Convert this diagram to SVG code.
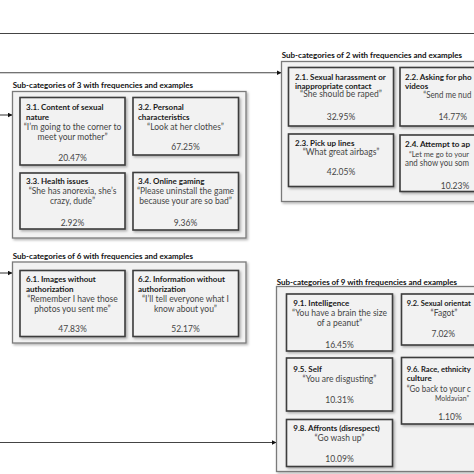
<svg xmlns="http://www.w3.org/2000/svg" width="474" height="474" viewBox="0 0 474 474">
<defs>
<filter id="sh" x="-10%" y="-10%" width="130%" height="130%">
<feDropShadow dx="1.5" dy="1.5" stdDeviation="0.8" flood-color="#000" flood-opacity="0.3"/>
</filter>
<marker id="ah" viewBox="0 0 10 10" refX="9" refY="5" markerWidth="5" markerHeight="5" orient="auto" markerUnits="userSpaceOnUse">
<path d="M0,0 L10,5 L0,10 z" fill="#111"/>
</marker>
<style>
.outer{fill:#f2f2f2;stroke:#7a7a7a;stroke-width:1.3;filter:url(#sh)}
.inner{fill:#f2f2f2;stroke:#3c3c3c;stroke-width:1.6;filter:url(#sh)}
.hdr{font-family:Lato,"Liberation Sans",sans-serif;font-weight:bold;font-size:8px;fill:#111}
.t{font-family:Lato,"Liberation Sans",sans-serif;font-weight:bold;font-size:8px;fill:#1a1a1a}
.q{font-family:Lato,"Liberation Sans",sans-serif;font-size:8.5px;fill:#454545;text-anchor:middle}
.qs{font-family:Lato,"Liberation Sans",sans-serif;font-size:8.5px;fill:#454545}
.sm{font-size:7.6px}
.line{stroke:#444;stroke-width:1.2;fill:none}
.conn{stroke:#444;stroke-width:1.1;fill:none;marker-end:url(#ah)}
</style>
</defs>
<rect width="474" height="474" fill="#fff"/>
<g id="connectors">
<line class="line" x1="0" y1="33.5" x2="474" y2="33.5"/>
<line class="conn" x1="0" y1="72.7" x2="281" y2="72.7"/>
<line class="conn" x1="0" y1="115" x2="12" y2="115"/>
<line class="conn" x1="0" y1="273" x2="12" y2="273"/>
<line class="conn" x1="0" y1="442.5" x2="276" y2="442.5"/>
</g>

<g id="group2">
<text class="hdr" x="281.7" y="58">Sub-categories of 2 with frequencies and examples</text>
<rect class="outer" x="281.5" y="61.5" width="220" height="140"/>
<g id="n2-1">
<rect class="inner" x="288.5" y="67.5" width="105" height="58.5"/>
<text class="t" x="295" y="79.5">2.1. Sexual harassment or</text>
<text class="t" x="295" y="88.5">inappropriate contact</text>
<text class="q" x="341" y="97">“She should be raped”</text>
<text class="q" x="341" y="120">32.95%</text>
</g>
<g id="n2-2">
<rect class="inner" x="400" y="67.5" width="105" height="58.5"/>
<text class="t" x="405" y="79.5">2.2. Asking for pho</text>
<text class="t" x="405" y="88.5">videos</text>
<text class="qs" x="423.3" y="97.5" textLength="48" lengthAdjust="spacingAndGlyphs">“Send me nud</text>
<text class="q" x="452.7" y="120">14.77%</text>
</g>
<g id="n2-3">
<rect class="inner" x="288.5" y="134" width="105" height="52.5"/>
<text class="t" x="295" y="146">2.3. Pick up lines</text>
<text class="q" x="341" y="154.5">“What great airbags”</text>
<text class="q" x="341" y="175">42.05%</text>
</g>
<g id="n2-4">
<rect class="inner" x="400" y="135" width="105" height="56.5"/>
<text class="t" x="405" y="147" textLength="65" lengthAdjust="spacingAndGlyphs">2.4. Attempt to ap</text>
<text class="qs sm" x="409" y="157" textLength="60" lengthAdjust="spacingAndGlyphs">“Let me go to your</text>
<text class="qs" x="405" y="166.3" textLength="64" lengthAdjust="spacingAndGlyphs">and show you som</text>
<text class="q" x="455" y="189">10.23%</text>
</g>
</g>

<g id="group3">
<text class="hdr" x="12.7" y="88">Sub-categories of 3 with frequencies and examples</text>
<rect class="outer" x="12.5" y="91.5" width="233.5" height="146.5"/>
<g id="n3-1">
<rect class="inner" x="20" y="97.5" width="105" height="67.5"/>
<text class="t" x="26" y="109.7">3.1. Content of sexual</text>
<text class="t" x="26" y="119.7">nature</text>
<text class="q" x="72.5" y="129.7">“I’m going to the corner to</text>
<text class="q" x="72.5" y="139.7">meet your mother”</text>
<text class="q" x="72.5" y="161.3">20.47%</text>
</g>
<g id="n3-2">
<rect class="inner" x="133" y="97.5" width="105.5" height="57.5"/>
<text class="t" x="138" y="109.7">3.2. Personal</text>
<text class="t" x="138" y="119.7">characteristics</text>
<text class="q" x="185.5" y="129.7">“Look at her clothes”</text>
<text class="q" x="185.5" y="149.7">67.25%</text>
</g>
<g id="n3-3">
<rect class="inner" x="20" y="173" width="105" height="56"/>
<text class="t" x="26" y="184">3.3. Health issues</text>
<text class="q" x="72.5" y="194">“She has anorexia, she’s</text>
<text class="q" x="72.5" y="204">crazy, dude”</text>
<text class="q" x="72.5" y="225.7">2.92%</text>
</g>
<g id="n3-4">
<rect class="inner" x="133" y="172.5" width="105.5" height="57.5"/>
<text class="t" x="138" y="184">3.4. Online gaming</text>
<text class="q" x="185.5" y="194">“Please uninstall the game</text>
<text class="q" x="185.5" y="204">because your are so bad”</text>
<text class="q" x="185.5" y="225.7">9.36%</text>
</g>
</g>

<g id="group6">
<text class="hdr" x="12.7" y="259">Sub-categories of 6 with frequencies and examples</text>
<rect class="outer" x="12.5" y="262" width="233.5" height="81"/>
<g id="n6-1">
<rect class="inner" x="20" y="270.5" width="105" height="66"/>
<text class="t" x="26" y="281.5">6.1. Images without</text>
<text class="t" x="26" y="291.5">authorization</text>
<text class="q" x="72.5" y="301.5">“Remember I have those</text>
<text class="q" x="72.5" y="311.5">photos you sent me”</text>
<text class="q" x="72.5" y="332">47.83%</text>
</g>
<g id="n6-2">
<rect class="inner" x="133" y="270.5" width="105.5" height="66"/>
<text class="t" x="138" y="281.5">6.2. Information without</text>
<text class="t" x="138" y="291.5">authorization</text>
<text class="q" x="185.5" y="301.5">“I’ll tell everyone what I</text>
<text class="q" x="185.5" y="311.5">know about you”</text>
<text class="q" x="185.5" y="332">52.17%</text>
</g>
</g>

<g id="group9">
<text class="hdr" x="276.7" y="284.5">Sub-categories of 9 with frequencies and examples</text>
<rect class="outer" x="276.5" y="286.5" width="220" height="185"/>
<g id="n9-1">
<rect class="inner" x="286.5" y="294" width="106" height="57"/>
<text class="t" x="293.3" y="305.7">9.1. Intelligence</text>
<text class="q" x="339.5" y="315.7">“You have a brain the size</text>
<text class="q" x="339.5" y="325.7">of a peanut”</text>
<text class="q" x="339.5" y="348">16.45%</text>
</g>
<g id="n9-2">
<rect class="inner" x="401.5" y="294" width="106" height="51"/>
<text class="t" x="406.7" y="305.7" textLength="64" lengthAdjust="spacingAndGlyphs">9.2. Sexual orientat</text>
<text class="q" x="444" y="316.3">“Fagot”</text>
<text class="q" x="443.3" y="337.3">7.02%</text>
</g>
<g id="n9-5">
<rect class="inner" x="286.5" y="358" width="106" height="53"/>
<text class="t" x="293.3" y="372.3">9.5. Self</text>
<text class="q" x="339.5" y="382.3">“You are disgusting”</text>
<text class="q" x="339.5" y="403">10.31%</text>
</g>
<g id="n9-6">
<rect class="inner" x="401.5" y="357.5" width="106" height="66.5"/>
<text class="t" x="406.7" y="372.3" textLength="64" lengthAdjust="spacingAndGlyphs">9.6. Race, ethnicity</text>
<text class="t" x="406.7" y="380.8">culture</text>
<text class="qs" x="406.7" y="392.3" textLength="64" lengthAdjust="spacingAndGlyphs">“Go back to your c</text>
<text class="qs sm" x="435" y="401.3" textLength="34" lengthAdjust="spacingAndGlyphs">Moldavian”</text>
<text class="q" x="450" y="419.7">1.10%</text>
</g>
<g id="n9-8">
<rect class="inner" x="286.5" y="419.5" width="106" height="47"/>
<text class="t" x="293.3" y="431.3">9.8. Affronts (disrespect)</text>
<text class="q" x="339.5" y="440.7">“Go wash up”</text>
<text class="q" x="339.5" y="462.3">10.09%</text>
</g>
</g>
</svg>
